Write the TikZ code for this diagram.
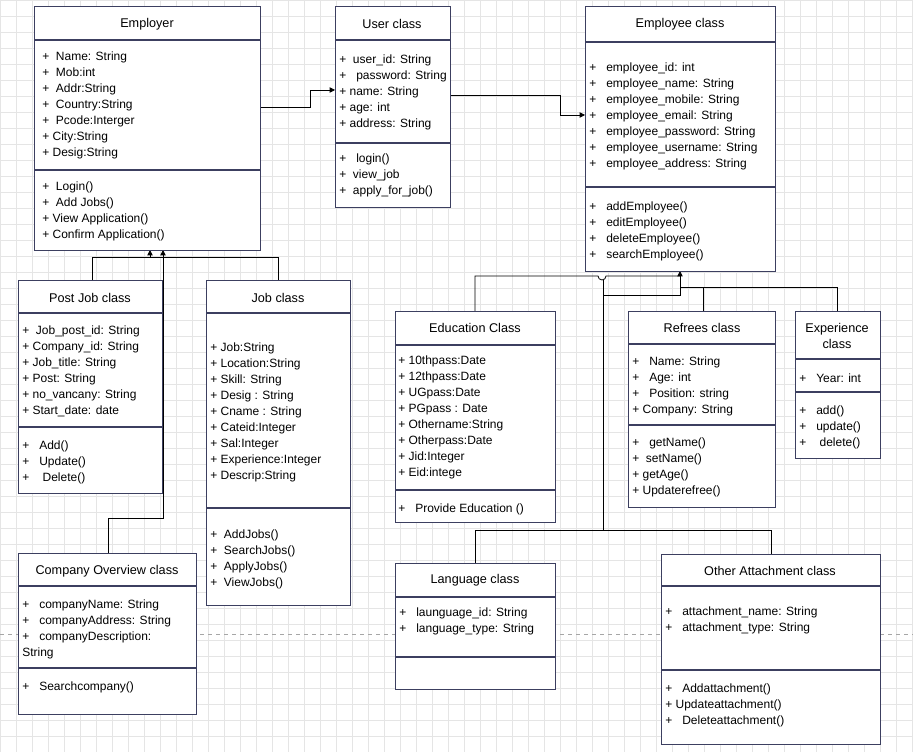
\documentclass[tikz,border=0pt]{standalone}
\usepackage{fontspec}
\setmainfont{Liberation Sans}
\usetikzlibrary{arrows.meta}
\definecolor{bd}{HTML}{3C3F60}
\tikzset{
  box/.style={draw=bd,line width=0.9pt,fill=white,rectangle,inner sep=0pt},
  dv/.style={draw=bd,line width=0.9pt},
  txt/.style={font=\fontsize{9}{12}\selectfont,align=left,anchor=north west,inner sep=0pt,yshift=-2.3pt},
  ttl/.style={font=\fontsize{9.5}{12}\selectfont,align=center,inner sep=0pt,yshift=-1pt},
  con/.style={draw=black,line width=0.6pt},
  arr/.style={con,-{Triangle[length=4pt,width=4pt]}},
}
\newcommand\cls[5]{\node[box,minimum width={(#4-#2)*0.75pt},minimum height={(#5-#3)*0.75pt},anchor=north west] (#1) at (#2,#3) {};}
\newcommand\hl[3]{\draw[dv] (#1,#3) -- (#2,#3);}
\begin{document}
\begin{tikzpicture}[x=0.75pt,y=-0.75pt]
\useasboundingbox (0,0) rectangle (913,752);
\fill[white] (0,0) rectangle (913,752);
\foreach \i in {0,16,...,912} \draw[black!10,line width=0.4pt] (\i,0) -- (\i,752);
\foreach \j in {0,16,...,752} \draw[black!10,line width=0.4pt] (0,\j) -- (913,\j);
\draw[black!35,dashed,line width=0.5pt] (0,634) -- (913,634);

% connectors
\draw[arr] (260,107) -- (310,107) -- (310,90) -- (335,90);
\draw[arr] (450,95) -- (560,95) -- (560,115) -- (585,115);
\draw[arr] (92,280) -- (92,257) -- (150,257) -- (150,250);
\draw[con] (278,280) -- (278,257) -- (150,257);
\draw[arr] (108,553) -- (108,518) -- (163,518) -- (163,250);
\draw[arr] (475,311) -- (475,276) -- (598,276) arc (180:0:4) -- (680,276) -- (680,271);
\draw[con] (603,280) -- (603,530);
\draw[con] (603,295) -- (680,295) -- (680,276);
\draw[con] (703,311) -- (703,287) -- (680,287);
\draw[con] (837,311) -- (837,287) -- (703,287);
\draw[con] (475,563) -- (475,530) -- (771,530) -- (771,554);

% Employer
\cls{employer}{34}{6}{260}{250}
\node[ttl] at (147,23) {Employer};
\hl{34}{260}{40}\hl{34}{260}{170}
\node[txt] at (42,48) {+\ \ Name: String\\+\ \ Mob:int\\+\ \ Addr:String\\+\ \ Country:String\\+\ \ Pcode:Interger\\+ City:String\\+ Desig:String};
\node[txt] at (42,178) {+\ \ Login()\\+\ \ Add Jobs()\\+ View Application()\\+ Confirm Application()};

% User
\cls{user}{335}{6}{450}{207}
\node[ttl] at (392,23) {User class};
\hl{335}{450}{40}\hl{335}{450}{143}
\node[txt] at (339,51) {+\ \ user\_id: String\\+\ \ \ password: String\\+ name: String\\+ age: int\\+ address: String};
\node[txt] at (339,150) {+\ \ \ login()\\+\ \ view\_job\\+\ \ apply\_for\_job()};

% Employee
\cls{employee}{585}{6}{775}{271}
\node[ttl] at (680,23) {Employee class};
\hl{585}{775}{42}\hl{585}{775}{187}
\node[txt] at (589,59) {+\ \ \ employee\_id: int\\+\ \ \ employee\_name: String\\+\ \ \ employee\_mobile: String\\+\ \ \ employee\_email: String\\+\ \ \ employee\_password: String\\+\ \ \ employee\_username: String\\+\ \ \ employee\_address: String};
\node[txt] at (589,198) {+\ \ \ addEmployee()\\+\ \ \ editEmployee()\\+\ \ \ deleteEmployee()\\+\ \ \ searchEmployee()};

% Post Job
\cls{postjob}{18}{280}{162}{493}
\node[ttl] at (90,297) {Post Job class};
\hl{18}{162}{313}\hl{18}{162}{427}
\node[txt] at (22,322) {+\ \ Job\_post\_id: String\\+ Company\_id: String\\+ Job\_title: String\\+ Post: String\\+ no\_vancany: String\\+ Start\_date: date};
\node[txt] at (22,437) {+\ \ \ Add()\\+\ \ \ Update()\\+\ \ \ \ Delete()};

% Job class
\cls{job}{206}{280}{350}{605}
\node[ttl] at (278,297) {Job class};
\hl{206}{350}{313}\hl{206}{350}{508}
\node[txt] at (210,339) {+ Job:String\\+ Location:String\\+ Skill: String\\+ Desig : String\\+ Cname : String\\+ Cateid:Integer\\+ Sal:Integer\\+ Experience:Integer\\+ Descrip:String};
\node[txt] at (210,526) {+\ \ AddJobs()\\+\ \ SearchJobs()\\+\ \ ApplyJobs()\\+\ \ ViewJobs()};

% Company overview
\cls{company}{18}{553}{196}{714}
\node[ttl] at (107,570) {Company Overview class};
\hl{18}{196}{586}\hl{18}{196}{668}
\node[txt] at (22,596) {+\ \ \ companyName: String\\+\ \ \ companyAddress: String\\+\ \ \ companyDescription:\\String};
\node[txt] at (22,678) {+\ \ \ Searchcompany()};

% Education
\cls{education}{395}{311}{555}{522}
\node[ttl] at (475,327) {Education Class};
\hl{395}{555}{345}\hl{395}{555}{490}
\node[txt] at (398,352) {+ 10thpass:Date\\+ 12thpass:Date\\+ UGpass:Date\\+ PGpass : Date\\+ Othername:String\\+ Otherpass:Date\\+ Jid:Integer\\+ Eid:intege};
\node[txt] at (398,500) {+\ \ \ Provide Education ()};

% Refrees
\cls{refrees}{628}{311}{775}{507}
\node[ttl] at (702,327) {Refrees class};
\hl{628}{775}{344}\hl{628}{775}{425}
\node[txt] at (632,353) {+\ \ \ Name: String\\+\ \ \ Age: int\\+\ \ \ Position: string\\+ Company: String};
\node[txt] at (632,434) {+\ \ \ getName()\\+\ \ setName()\\+ getAge()\\+ Updaterefree()};

% Experience
\cls{experience}{795}{311}{880}{458}
\node[ttl] at (837,335) {Experience\\class};
\hl{795}{880}{359}\hl{795}{880}{392}
\node[txt] at (799,370) {+\ \ \ Year: int};
\node[txt] at (799,402) {+\ \ \ add()\\+\ \ \ update()\\+\ \ \ \ delete()};

% Language
\cls{language}{395}{563}{555}{689}
\node[ttl] at (475,579) {Language class};
\hl{395}{555}{597}\hl{395}{555}{657}
\node[txt] at (399,604) {+\ \ \ launguage\_id: String\\+\ \ \ language\_type: String};

% Other attachment
\cls{attach}{661}{554}{880}{744}
\node[ttl] at (770,570) {Other Attachment class};
\hl{661}{880}{586}\hl{661}{880}{670}
\node[txt] at (665,603) {+\ \ \ attachment\_name: String\\+\ \ \ attachment\_type: String};
\node[txt] at (665,680) {+\ \ \ Addattachment()\\+ Updateattachment()\\+\ \ \ Deleteattachment()};
\end{tikzpicture}
\end{document}
